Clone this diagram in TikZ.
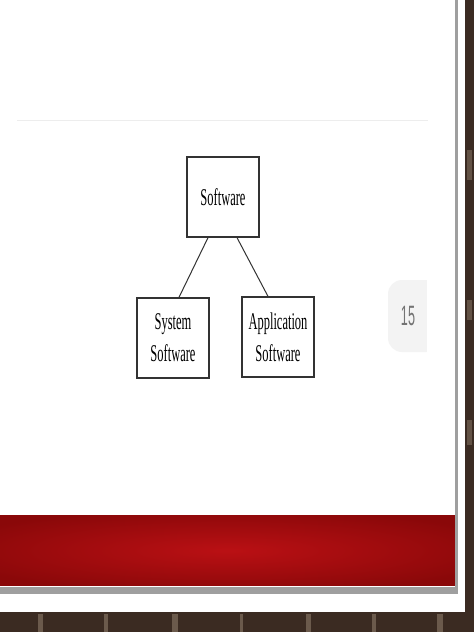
\documentclass[tikz,border=0pt]{standalone}
\usepackage{fontspec}
\setmainfont{Liberation Serif}
\newfontfamily\boxfont[FakeStretch=0.52]{Liberation Serif}
\newfontfamily\numfont[FakeStretch=0.45]{Liberation Sans}
\definecolor{brick}{HTML}{3B2B22}
\definecolor{brickhi}{HTML}{8C7A68}
\definecolor{bandred}{HTML}{BA1014}
\definecolor{banddark}{HTML}{8A0809}
\definecolor{tabgray}{HTML}{F3F3F3}
\begin{document}
\begin{tikzpicture}[x=1bp,y=-1bp,
  box/.style={draw=black!80,line width=1.3bp,fill=white,minimum width=72bp,
    minimum height=80bp,inner sep=0pt,align=center,
    font=\boxfont\fontsize{24bp}{32bp}\selectfont},
  link/.style={draw=black!80,line width=1bp}]
\useasboundingbox (0,0) rectangle (474,632);
% background of bricks
\fill[brick] (0,0) rectangle (474,632);
\foreach \x/\w in {38/5,104/4,172/6,240/3,306/5,372/4,437/6}
  \fill[brickhi,opacity=0.6] (\x,614) rectangle ++(\w,18);
\foreach \y/\h in {150/30,300/20,420/25,560/15}
  \fill[brickhi,opacity=0.5] (467,\y) rectangle ++(5,\h);
% slide
\fill[white] (0,0) rectangle (465,612);
\fill[gray!75] (0,0) rectangle (458,594);
\fill[white] (0,0) rectangle (455,586);
\draw[black!7,line width=1bp] (17,121) -- (428,121);
% red band
\shade[inner color=bandred,outer color=banddark] (-60,508) rectangle (515,593);
\fill[white] (0,586) rectangle (455,587);
\fill[gray!75] (0,587) rectangle (458,594);
\fill[white] (-60,508) rectangle (455,515);
\fill[gray!75] (455,508) rectangle (458,594);
\fill[white] (458,508) rectangle (465,612);
\fill[brick] (465,500) rectangle (474,612);
\fill[white] (0,594) rectangle (465,612);
% page number tab
\fill[tabgray,rounded corners=14bp] (388,280) rectangle (440,352);
\fill[white] (427,275) rectangle (454,357);
\node[text=black!55,font=\numfont\fontsize{28bp}{28bp}\selectfont] (pagenum) at (408,316) {15};
% tree
\node[box] (sw) at (223,197) {Software};
\node[box] (sys) at (173,338) {System\\Software};
\node[box] (app) at (278,337) {Application\\Software};
\draw[link] ([xshift=-15bp]sw.south) -- ([xshift=6bp]sys.north);
\draw[link] ([xshift=14bp]sw.south) -- ([xshift=-10bp]app.north);
\end{tikzpicture}
\end{document}
